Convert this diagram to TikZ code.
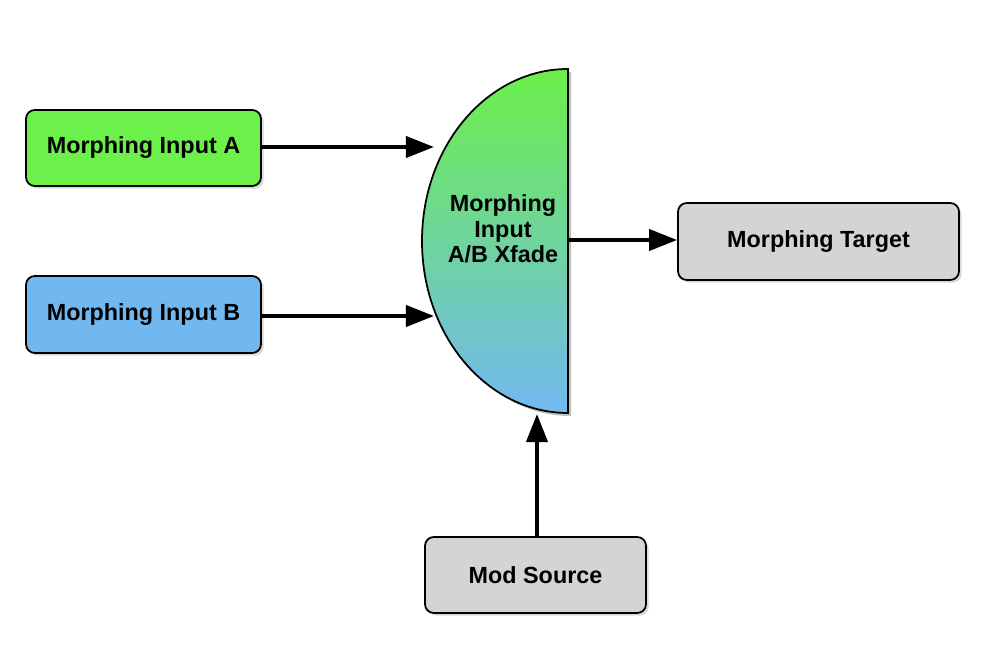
\documentclass[tikz,border=0pt]{standalone}
\usepackage{fontspec}
\setmainfont{Liberation Sans}
\usetikzlibrary{arrows.meta,shadows}
\definecolor{gA}{HTML}{6CF04A}
\definecolor{bB}{HTML}{72B8F0}
\definecolor{gr}{HTML}{D4D4D4}
\begin{document}
\begin{tikzpicture}[x=0.02cm,y=0.02cm,
  txt/.style={font=\fontsize{13.3}{14.5}\selectfont\bfseries},
  box/.style={txt,draw=black,line width=1pt,rounded corners=5pt,drop shadow={shadow xshift=1.5pt,shadow yshift=-1.5pt,opacity=0.3}},
  arr/.style={line width=2.3pt,-{Triangle[length=16pt,width=12pt]}}]
\useasboundingbox (0,0) rectangle (1000,669);
\node[box,fill=gA,minimum width=235*0.02cm,minimum height=76*0.02cm] (A) at (143.5,521) {Morphing Input A};
\node[box,fill=bB,minimum width=235*0.02cm,minimum height=77*0.02cm] (B) at (143.5,354.5) {Morphing Input B};
\node[box,fill=gr,minimum width=281*0.02cm,minimum height=77*0.02cm] (T) at (818.5,427.5) {Morphing Target};
\node[box,fill=gr,minimum width=221*0.02cm,minimum height=76*0.02cm] (M) at (535.5,94) {Mod Source};
\fill[black,opacity=0.25] (571,253) arc[start angle=270,end angle=90,x radius=146,y radius=172] -- cycle;
\shade[top color=gA,bottom color=bB] (568,256) arc[start angle=270,end angle=90,x radius=146,y radius=172] -- cycle;
\draw[line width=1pt] (568,256) arc[start angle=270,end angle=90,x radius=146,y radius=172] -- cycle;
\node[txt,align=center] (X) at (503,440) {Morphing\\Input\\A/B Xfade};
\coordinate (XA) at (434,522);
\coordinate (XB) at (434,353);
\coordinate (XO) at (568,429);
\coordinate (XM) at (537,255);
\draw[arr] (A.east |- XA) -- (XA);
\draw[arr] (B.east |- XB) -- (XB);
\draw[arr] (XO) -- (T.west |- XO);
\draw[arr] (M.north -| XM) -- (XM);
\end{tikzpicture}
\end{document}
